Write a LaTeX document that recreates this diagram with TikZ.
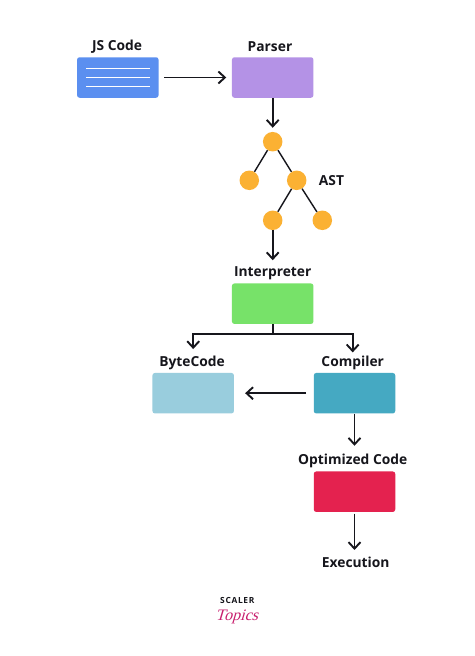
\documentclass[tikz,border=0pt]{standalone}
\usepackage{fontspec}
\setmainfont{Open Sans}
\newfontfamily\labfont{Open Sans}
\newfontfamily\logotop[LetterSpace=8]{Open Sans}
\newfontfamily\logoscript[FakeSlant=0.3]{Liberation Serif}
\usetikzlibrary{arrows.meta}
\definecolor{inkc}{HTML}{16161C}
\definecolor{jsc}{HTML}{5B8FF0}
\definecolor{parsec}{HTML}{B492E6}
\definecolor{interc}{HTML}{77E269}
\definecolor{bytec}{HTML}{99CDDD}
\definecolor{compc}{HTML}{45A9C2}
\definecolor{optc}{HTML}{E4224F}
\definecolor{astc}{HTML}{FBB133}
\definecolor{logoc}{HTML}{C81E6E}
\tikzset{
  x=1pt,y=-1pt,
  boxn/.style={minimum width=81.5pt,minimum height=40.5pt,inner sep=0pt,rounded corners=2.5pt,draw=none},
  astn/.style={circle,fill=astc,minimum size=19.5pt,inner sep=0pt,draw=none},
  lab/.style={font=\fontsize{13.8}{15}\selectfont\labfont\bfseries,text=inkc,inner sep=0pt},
  conn/.style={draw=inkc,line width=1.9pt},
  arr/.style={conn,-{Straight Barb[length=6.5pt,width=12pt,line width=1.9pt]}},
}
\begin{document}
\begin{tikzpicture}
\useasboundingbox[fill=white] (0,0) rectangle (474,656);
% boxes
\node[boxn,fill=jsc] (js) at (117.8,77.5) {};
\node[boxn,fill=parsec] (parser) at (272.7,77.5) {};
\node[boxn,fill=interc] (interp) at (272.7,303.7) {};
\node[boxn,fill=bytec] (byte) at (193.2,393.2) {};
\node[boxn,fill=compc] (comp) at (354.5,393.2) {};
\node[boxn,fill=optc] (opt) at (354.5,491.7) {};
% code lines in the JS box
\coordinate (l1a) at (86.3,68.3); \coordinate (l1b) at (150,68.3);
\coordinate (l2a) at (86.3,77.3); \coordinate (l2b) at (150,77.3);
\coordinate (l3a) at (86.3,86.3); \coordinate (l3b) at (150,86.3);
\draw[white,line width=1pt] (l1a)--(l1b) (l2a)--(l2b) (l3a)--(l3b);
% AST
\node[astn] (a0) at (272.7,141.7) {};
\node[astn] (a1) at (249.3,180.3) {};
\node[astn] (a2) at (296.7,180.3) {};
\node[astn] (a3) at (272.7,220.3) {};
\node[astn] (a4) at (322.3,220.3) {};
% labels
\node[lab] (tjs) at (117,46.5) {JS Code};
\node[lab] (tparser) at (270,47) {Parser};
\node[lab] (tast) at (331.5,180.5) {AST};
\node[lab] (tinterp) at (272.7,273) {Interpreter};
\node[lab] (tbyte) at (192,362.5) {ByteCode};
\node[lab] (tcomp) at (352.7,362.5) {Compiler};
\node[lab] (topt) at (352.7,460.5) {Optimized Code};
\node[lab] (texec) at (355.7,562.5) {Execution};
% logo
\node[font=\fontsize{8.4}{9}\selectfont\logotop\bfseries,text=inkc,inner sep=0pt] (logo1) at (237.3,600.5) {SCALER};
\node[font=\fontsize{16}{16}\selectfont\logoscript,text=logoc,inner sep=0pt] (logo2) at (236.7,616.5) {Topics};
% connectors
\draw[arr,shorten <=5.5pt,shorten >=5.5pt] (js) -- (parser);
\draw[arr,shorten >=4pt] (parser) -- (a0);
\draw[conn,line width=1.4pt] (a0) -- (a1);
\draw[conn,line width=1.4pt] (a0) -- (a2);
\draw[conn,line width=1.4pt] (a2) -- (a3);
\draw[conn,line width=1.4pt] (a2) -- (a4);
\draw[arr,shorten >=6pt] (a3) -- (a3 |- tinterp.north);
\coordinate (jn) at (272.7,334.3);
\draw[conn] (interp) -- (jn);
\draw[arr,shorten >=23.7pt] (jn) -| (byte);
\draw[arr,shorten >=3pt] (jn) -| (tcomp.north);
\draw[arr,shorten <=7.5pt,shorten >=11pt] (comp) -- (byte);
\draw[arr,shorten >=25.5pt] (comp) -- (opt);
\draw[arr,shorten <=1.5pt,shorten >=7pt] (opt.south) -- (opt.south |- texec.north);
\end{tikzpicture}
\end{document}
